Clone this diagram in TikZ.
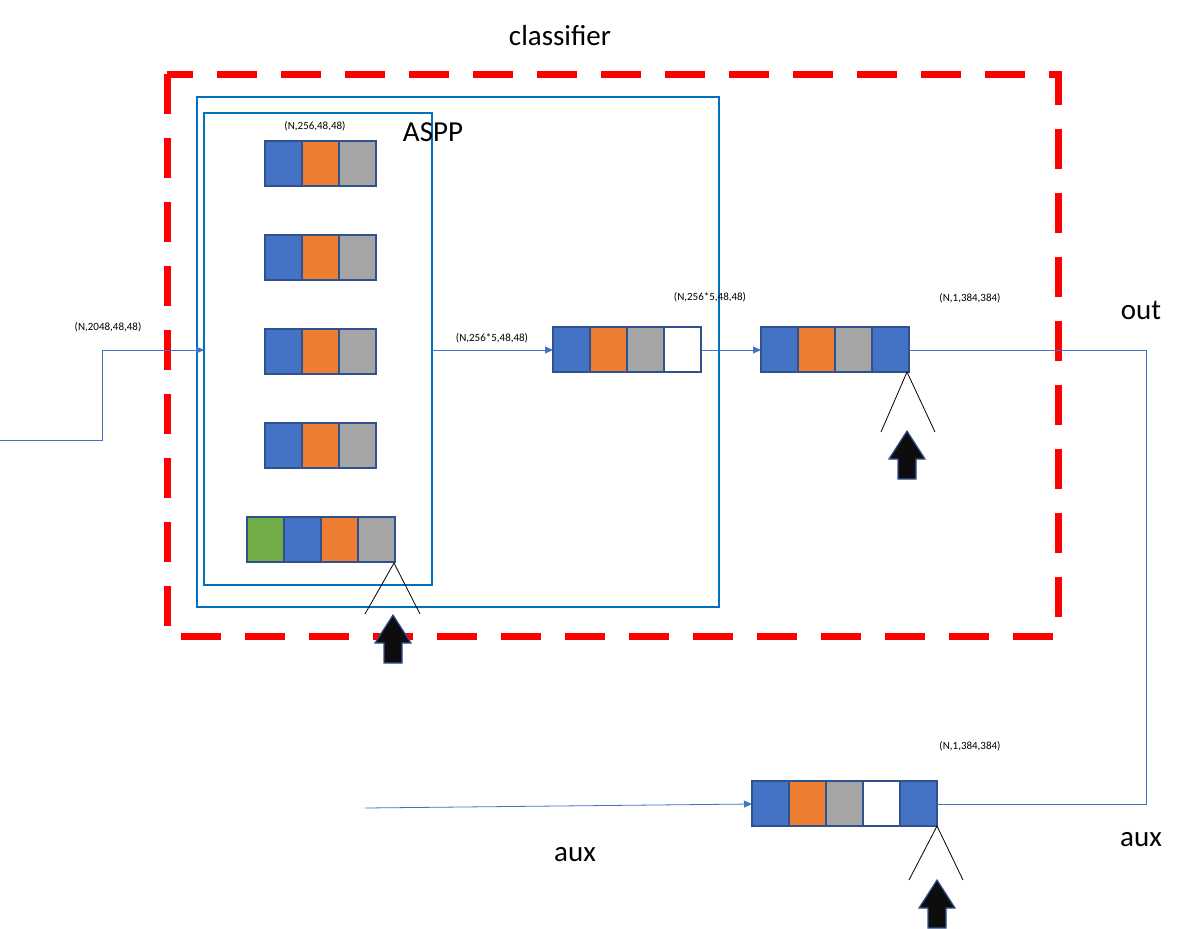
\documentclass[tikz,border=0pt]{standalone}
\usepackage{fontspec}
\setmainfont{Carlito}
\usetikzlibrary{arrows.meta}
\begin{document}
\begin{tikzpicture}[x=1pt,y=-1pt,
  lbl/.style={font=\fontsize{11}{12}\selectfont},
  big/.style={font=\fontsize{29}{32}\selectfont},
  conn/.style={draw=lineblue,line width=0.8pt},
  arr/.style={conn,-{Triangle[length=8pt,width=7pt]}},
  tick/.style={draw=black,line width=0.8pt},
  uparr/.style={fill=black!95,draw=cellborder,line width=1.2pt}]
\definecolor{lineblue}{RGB}{68,114,196}
\definecolor{boxblue}{RGB}{0,112,192}
\definecolor{cellborder}{RGB}{47,82,143}
\definecolor{cb}{RGB}{68,114,196}
\definecolor{co}{RGB}{237,125,49}
\definecolor{cg}{RGB}{165,165,165}
\definecolor{cgr}{RGB}{112,173,71}
\useasboundingbox (0,0) rectangle (1192,929);
\newcommand{\mycells}[4]{%
  \foreach \c [count=\i from 0] in {#4} {
    \path[fill=\c,draw=cellborder,line width=1.3pt] (#1+\i*37,#2) rectangle ++(37,45);
  }
}
\newcommand{\bigup}[3]{%
  \path[uparr] (#1,#2) -- (#1+18,#2+28) -- (#1+9,#2+28) -- (#1+9,#2+48) -- (#1-9,#2+48) -- (#1-9,#2+28) -- (#1-18,#2+28) -- cycle;
  \coordinate (#3) at (#1,#2);
}
% frames
\draw[red,line width=7pt,dash pattern=on 40pt off 24pt] (167,74) rectangle (1058,636);
\draw[boxblue,line width=1.3pt] (197,97) rectangle (719,607);
\draw[boxblue,line width=1.3pt] (204,113) rectangle (432,585);
\coordinate (asppin) at (204,350);
\coordinate (asppout) at (432,350);
% blocks
\mycells{265}{141}{r1}{cb,co,cg}
\mycells{265}{235}{r2}{cb,co,cg}
\mycells{265}{329}{r3}{cb,co,cg}
\mycells{265}{423}{r4}{cb,co,cg}
\mycells{247}{517}{r5}{cgr,cb,co,cg}
\mycells{553}{327}{cat}{cb,co,cg,white}
\mycells{761}{327}{outb}{cb,co,cg,cb}
\mycells{752}{781}{auxb}{cb,co,cg,white,cb}
\coordinate (catW) at (553,350);
\coordinate (catE) at (701,350);
\coordinate (outW) at (761,350);
\coordinate (outE) at (909,350);
\coordinate (auxW) at (752,804);
\coordinate (auxE) at (937,804);
\coordinate (start) at (0,440);
\coordinate (auxstart) at (365,808);
% connectors
\draw[arr] (start) -- (102,440) -- (102,350) -- (asppin);
\draw[arr] (asppout) -- (catW);
\draw[arr] (catE) -- (outW);
\draw[conn] (outE) -- (1146,350) -- (1146,804) -- (auxE);
\draw[arr] (auxstart) -- (auxW);
% ticks
\coordinate (t1) at (394,563); \draw[tick] (365,614) -- (t1) -- (420,614);
\coordinate (t2) at (907,372); \draw[tick] (881,432) -- (t2) -- (935,432);
\coordinate (t3) at (937,826); \draw[tick] (909,880) -- (t3) -- (963,880);
\bigup{393}{615}{ua1}
\bigup{907}{431}{ua2}
\bigup{937}{880}{ua3}
% texts
\node[big] (cl) at (560,36) {classifier};
\node[big] (aspp) at (433,132) {ASPP};
\node[lbl] (l1) at (315,126) {(N,256,48,48)};
\node[lbl] (l2) at (108,327) {(N,2048,48,48)};
\node[lbl] (l3) at (492,338) {(N,256*5,48,48)};
\node[lbl] (l4) at (710,297) {(N,256*5,48,48)};
\node[lbl] (l5) at (970,298) {(N,1,384,384)};
\node[lbl] (l6) at (970,746) {(N,1,384,384)};
\node[big] (o1) at (1141,310) {out};
\node[big] (a1) at (575,855) {aux};
\node[big] (a2) at (1141,840) {aux};
\end{tikzpicture}
\end{document}
